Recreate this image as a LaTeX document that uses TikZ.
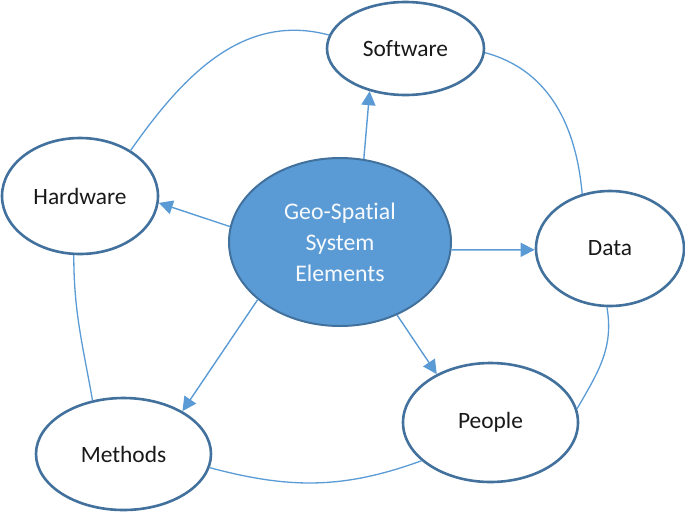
\documentclass[tikz,border=0pt]{standalone}
\usepackage{fontspec}
\setmainfont[Ligatures={NoCommon,NoContextual}]{Carlito}
\usetikzlibrary{shapes.geometric,arrows.meta}
\definecolor{edgeblue}{HTML}{41719C}
\definecolor{fillblue}{HTML}{5B9BD5}
\definecolor{linkblue}{HTML}{5B9BD5}
\tikzset{
  elem/.style={ellipse, draw=edgeblue, line width=2.6pt, fill=white, inner sep=0pt,
    font=\fontsize{23.4}{30}\selectfont, text=black!90},
  hub/.style={ellipse, draw=edgeblue, line width=2pt, fill=fillblue, inner sep=0pt,
    font=\fontsize{23.8}{31}\selectfont, text=white!95!fillblue, align=center},
  arr/.style={draw=linkblue, line width=1.4pt, -{Triangle[length=14pt,width=14pt]}},
  link/.style={draw=linkblue, line width=1.3pt}
}
\begin{document}
\begin{tikzpicture}[x=1pt,y=-1pt]
\useasboundingbox (0,0) rectangle (685,512);
\node[hub, minimum width=222pt, minimum height=168pt] (c) at (340,242) {Geo-Spat\kern0pt ial\\System\\Elements};
\node[elem, minimum width=157pt, minimum height=93pt] (sw) at (405.5,48.5) {Software};
\node[elem, minimum width=156pt, minimum height=116pt] (hw) at (80,196) {Hardware};
\node[elem, minimum width=148pt, minimum height=115pt] (da) at (610,248.5) {Data};
\node[elem, minimum width=175pt, minimum height=119pt] (pe) at (490.5,422.5) {People};
\node[elem, minimum width=175pt, minimum height=112pt] (me) at (123.5,454) {Methods};
% ring connectors
\draw[link] (hw.42) to[out=55,in=165] (sw.170);
\draw[link] (sw.357) to[out=-15,in=95] (da.117);
\draw[link] (da.267) to[out=-80,in=60] (pe.9);
\draw[link] (pe.209) to[out=200,in=-15] (me.351);
\draw[link] (me.120) to[out=100,in=270] (hw.264);
% arrows from hub
\draw[arr] (c.74.7) -- (sw.230);
\draw[arr] (c.172) -- (hw.355);
\draw[arr] (c.-4) -- (da.181);
\draw[arr] (c.215.5) -- (me.36);
\draw[arr] (c.308.5) -- (pe.138.5);
\end{tikzpicture}
\end{document}
